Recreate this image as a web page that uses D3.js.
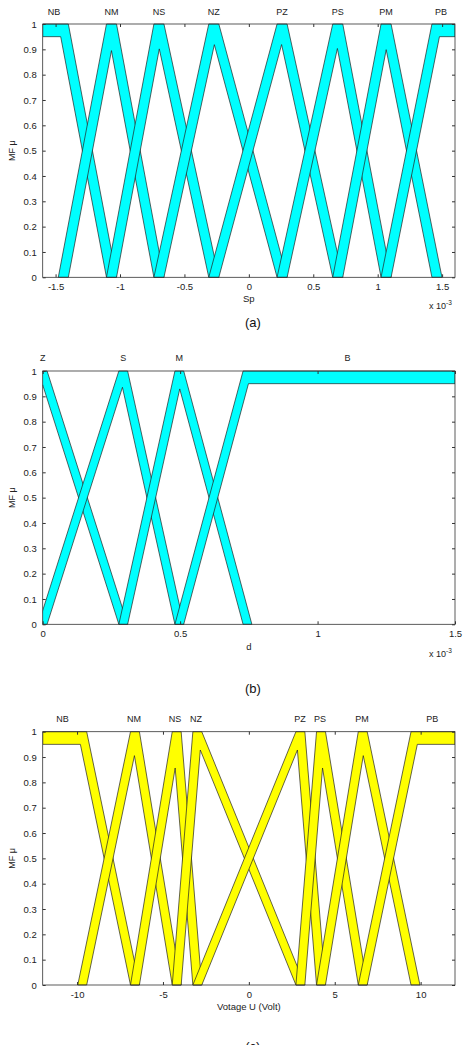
<!DOCTYPE html>
<html>
<head>
<meta charset="utf-8">
<script src="https://cdn.jsdelivr.net/npm/d3@7"></script>
<style>
body { margin: 0; background: #fff; }
text { font-family: "Liberation Sans", Arial, sans-serif; }
</style>
</head>
<body>
<div id="chart"></div>
<script>
// panel (a): Sp, x 10^-3
var namesA = ["NB", "NM", "NS", "NZ", "PZ", "PS", "PM", "PB"];
var centersA = [-1.44, -1.066, -0.698, -0.272, 0.258, 0.690, 1.065, 1.46];
var labelXA = [-1.513, -1.066, -0.698, -0.272, 0.258, 0.69, 1.065, 1.492];
var deltaA = 0.039;
var ticksA = [-1.5, -1, -0.5, 0, 0.5, 1, 1.5];

// panel (b): d, x 10^-3
var namesB = ["Z", "S", "M", "B"];
var centersB = [0, 0.293, 0.497, 0.745];
var labelXB = [0, 0.293, 0.497, 1.109];
var deltaB = 0.016;
var ticksB = [0, 0.5, 1, 1.5];

// panel (c): voltage
var namesC = ["NB", "NM", "NS", "NZ", "PZ", "PS", "PM", "PB"];
var centersC = [-9.7, -6.63, -4.2, -3.0, 3.0, 4.2, 6.63, 9.7];
var labelXC = [-10.84, -6.69, -4.3, -3.07, 2.98, 4.14, 6.58, 10.68];
var deltaC = 0.26;
var ticksC = [-10, -5, 0, 5, 10];

var yTicks = [0, 0.1, 0.2, 0.3, 0.4, 0.5, 0.6, 0.7, 0.8, 0.9, 1];
var shoulderLow = 0.95;

var W = 474, H = 1045;
var left = 42.7, right = 455;

var svg = d3.select("#chart").append("svg").attr("width", W).attr("height", H);

var fmt = function(v) { return d3.format("~g")(v).replace("\u2212", "-"); };

// band polygon for an interval type-2 MF (uncertain centre +-d)
function band(i, centers, d, xmin, xmax) {
    var n = centers.length, c = centers[i];
    var a = i > 0 ? centers[i - 1] : c - (centers[1] - c);
    var b = i < n - 1 ? centers[i + 1] : c + (c - centers[n - 2]);
    var up, lo;
    if (i == 0 && c > xmin + 1e-9) {
        up = [[xmin, 1], [c + d, 1], [b + d, 0]];
        lo = [[xmin, shoulderLow], [b - d - shoulderLow * (b - c), shoulderLow], [b - d, 0]];
    } else if (i == n - 1 && c < xmax - 1e-9) {
        up = [[a - d, 0], [c - d, 1], [xmax, 1]];
        lo = [[a + d, 0], [a + d + shoulderLow * (c - a), shoulderLow], [xmax, shoulderLow]];
    } else {
        var px = ((a + d) * (b - c) + (b - d) * (c - a)) / (b - a);
        var py = (px - a - d) / (c - a);
        up = [[a - d, 0], [c - d, 1], [c + d, 1], [b + d, 0]];
        lo = [[a + d, 0], [px, py], [b - d, 0]];
    }
    return up.concat(lo.reverse());
}

function panel(id, top, bottom, domain, ticks, centers, names, labelX, d, color, xlab, expo, labelY, caption, captionY, xlabY) {
    var x = d3.scaleLinear().domain(domain).range([left, right]);
    var y = d3.scaleLinear().domain([0, 1]).range([bottom, top]);
    var g = svg.append("g");

    g.append("clipPath").attr("id", "clip" + id)
        .append("rect").attr("x", left).attr("y", top - 1).attr("width", right - left).attr("height", bottom - top + 2);

    var line = d3.line().x(function(p) { return x(p[0]); }).y(function(p) { return y(p[1]); });
    var area = g.append("g").attr("clip-path", "url(#clip" + id + ")");
    centers.forEach(function(c, i) {
        area.append("path")
            .attr("d", line(band(i, centers, d, domain[0], domain[1])) + "Z")
            .attr("fill", color)
            .attr("stroke", "#222")
            .attr("stroke-width", 0.7);
    });

    // box
    g.append("rect").attr("x", left).attr("y", top).attr("width", right - left).attr("height", bottom - top)
        .attr("fill", "none").attr("stroke", "#333").attr("stroke-width", 0.8);

    var xAxis = d3.axisBottom(x).tickValues(ticks).tickSize(-3).tickPadding(6).tickFormat(fmt);
    var xAxisTop = d3.axisTop(x).tickValues(ticks).tickSize(-3).tickFormat("");
    var yAxis = d3.axisLeft(y).tickValues(yTicks).tickSize(-3).tickPadding(6).tickFormat(fmt);
    var yAxisR = d3.axisRight(y).tickValues(yTicks).tickSize(-3).tickFormat("");

    [[xAxis, "translate(0," + bottom + ")"], [xAxisTop, "translate(0," + top + ")"],
     [yAxis, "translate(" + left + ",0)"], [yAxisR, "translate(" + right + ",0)"]].forEach(function(a) {
        var ax = g.append("g").attr("transform", a[1]).call(a[0]);
        ax.select(".domain").remove();
        ax.selectAll("line").attr("stroke", "#333");
        ax.selectAll("text").attr("font-size", 9.5).attr("fill", "#222")
            .attr("font-family", "Liberation Sans, Arial, sans-serif");
    });

    names.forEach(function(nm, i) {
        g.append("text").attr("x", x(labelX[i])).attr("y", labelY).attr("text-anchor", "middle")
            .attr("font-size", 9).attr("fill", "#222").text(nm);
    });

    g.append("text").attr("transform", "translate(15," + ((top + bottom) / 2) + ") rotate(-90)")
        .attr("text-anchor", "middle").attr("font-size", 9).attr("fill", "#222").text("MF μ");

    g.append("text").attr("x", (left + right) / 2).attr("y", xlabY).attr("text-anchor", "middle")
        .attr("font-size", 9.5).attr("fill", "#222").text(xlab);

    if (expo) {
        var t = g.append("text").attr("x", 429).attr("y", xlabY + 7).attr("font-size", 9).attr("fill", "#222");
        t.append("tspan").text("x 10");
        t.append("tspan").attr("dy", -4).attr("font-size", 6.5).text("-3");
    }

    svg.append("text").attr("x", (left + right) / 2 + 4).attr("y", captionY).attr("text-anchor", "middle")
        .attr("font-size", 13).attr("fill", "#111").text(caption);
}

panel("a", 24, 277.3, [-1.6, 1.6], ticksA, centersA, namesA, labelXA, deltaA, "#00ffff", "Sp", true, 14.5, "(a)", 327, 302);
panel("b", 371, 624.3, [0, 1.5], ticksB, centersB, namesB, labelXB, deltaB, "#00ffff", "d", true, 360.5, "(b)", 693, 650);
panel("c", 731.7, 985, [-12, 12], ticksC, centersC, namesC, labelXC, deltaC, "#ffff00", "Votage U (Volt)", false, 721.5, "(c)", 1051, 1010);
</script>
</body>
</html>
